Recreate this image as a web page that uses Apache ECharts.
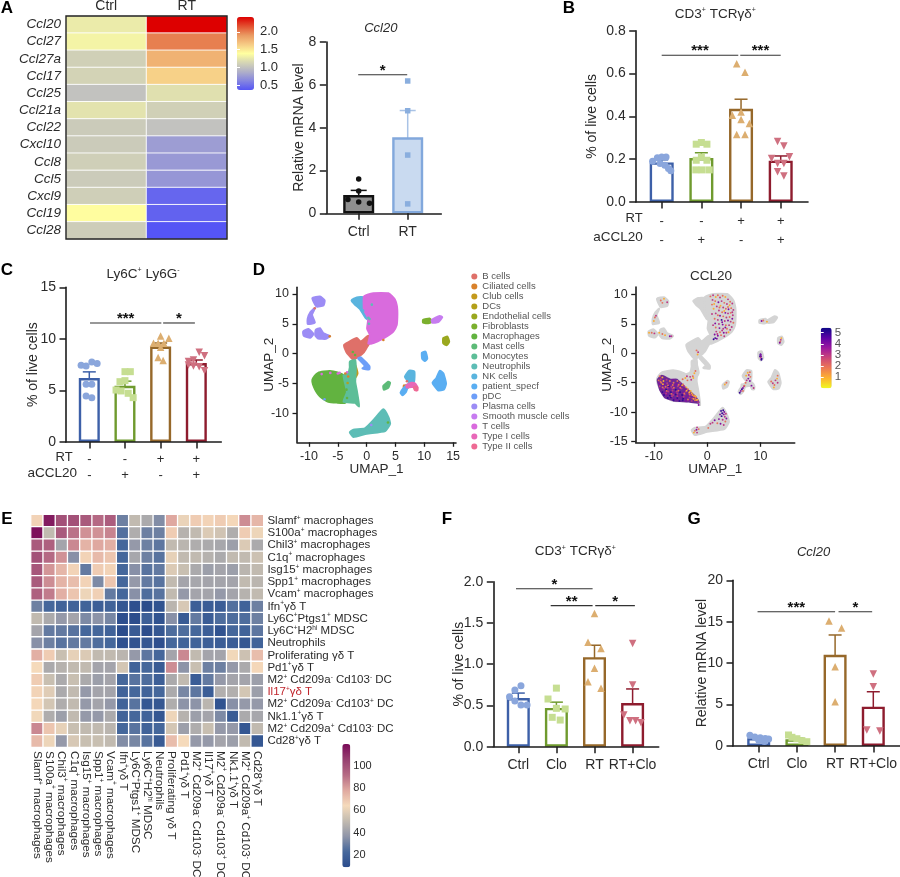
<!DOCTYPE html>
<html>
<head>
<meta charset="utf-8">
<style>html,body{margin:0;padding:0;background:#fff}#fig{width:900px;height:877px}</style>
<script src="https://cdn.jsdelivr.net/npm/echarts@6/dist/echarts.min.js"></script>
</head>
<body>
<div id="fig"></div>
<script>
// ---------- Panel A: chemokine heat map ----------
const chemokineGenes = ['Ccl20','Ccl27','Ccl27a','Ccl17','Ccl25','Ccl21a','Ccl22','Cxcl10','Ccl8','Ccl5','Cxcl9','Ccl19','Ccl28'];
const chemokineConditions = ['Ctrl','RT'];
const chemokineCtrl = [1.27,1.32,1.1,1.12,1.0,1.22,1.06,1.06,1.09,1.06,1.09,1.4,1.08];
const chemokineRT = [2.42,2.0,1.78,1.62,1.2,1.1,1.0,0.76,0.74,0.72,0.45,0.43,0.36];

// ---------- Bar panels: means, error limits and individual animals ----------
const ccl20Groups = ['Ctrl','RT'];
const ccl20Means = [0.85,3.55];
const ccl20Low = [0.65,2.3];
const ccl20High = [1.07,4.8];
const ccl20Ctrl = [[0,1.6],[-0.22,0.65],[0,1.04],[0,0.53],[0.22,0.47]];
const ccl20RT = [[0,6.18],[0,4.79],[0,2.72],[0,0.44]];

const rtSigns = ['-','-','+','+'];
const aCcl20Signs = ['-','+','-','+'];

const gdMeans = [0.185,0.205,0.435,0.193];
const gdLow = [0.172,0.183,0.39,0.17];
const gdHigh = [0.197,0.23,0.48,0.215];
const gdCtrl = [[-0.23,0.19],[-0.11,0.207],[0,0.21],[0.11,0.21],[-0.04,0.18],[0.08,0.172],[0.17,0.157],[0.23,0.146]];
const gdAb = [[-0.13,0.27],[0,0.278],[0.14,0.27],[0,0.21],[-0.13,0.195],[0.14,0.195],[-0.14,0.15],[0.02,0.15],[0.2,0.15]];
const gdRT = [[-0.11,0.646],[0.1,0.606],[-0.22,0.405],[0,0.42],[0,0.385],[0.21,0.367],[-0.11,0.315],[0.1,0.315]];
const gdRTAb = [[-0.08,0.283],[0.08,0.261],[-0.23,0.203],[0.22,0.211],[-0.08,0.18],[0.08,0.18],[-0.08,0.141],[0.08,0.121]];

const ly6Means = [6.2,5.45,9.25,7.65];
const ly6Low = [5.65,5.05,8.9,7.35];
const ly6High = [6.8,5.9,9.6,7.95];
const ly6Ctrl = [[-0.23,7.44],[-0.09,7.37],[0.07,7.76],[0.22,7.6],[-0.09,5.6],[0.07,5.6],[-0.09,4.45],[0.07,4.3]];
const ly6Ab = [[0,6.82],[0.15,6.82],[-0.14,5.85],[0,5.95],[-0.25,5.04],[-0.11,4.95],[0.09,4.72],[0.23,4.3]];
const ly6RT = [[0,10.28],[0.23,10.05],[-0.2,9.57],[-0.07,9.57],[0.09,9.57],[0,9.18],[-0.07,8.2],[0.07,7.9]];
const ly6RTAb = [[0.08,8.7],[0.23,8.37],[-0.22,7.8],[-0.08,7.95],[-0.22,7.47],[-0.08,7.37],[0.08,7.3],[0.23,6.92]];

const cloGroups = ['Ctrl','Clo','RT','RT+Clo'];
const cloMeans = [0.59,0.47,1.085,0.53];
const cloLow = [0.53,0.42,0.95,0.39];
const cloHigh = [0.65,0.54,1.23,0.7];
const cloCtrl = [[0.07,0.74],[-0.09,0.687],[-0.23,0.606],[-0.09,0.553],[0.07,0.505],[0.23,0.505]];
const cloAb = [[0,0.71],[-0.22,0.578],[0,0.465],[0.23,0.457],[-0.11,0.356],[0.1,0.323]];
const cloRT = [[0,1.616],[-0.17,1.265],[0.17,1.19],[0,0.95],[-0.17,0.788],[0.17,0.707]];
const cloRTAb = [[0,1.25],[0,0.747],[-0.23,0.384],[-0.07,0.315],[0.08,0.315],[0.22,0.29]];

const cloCcl20Means = [0.95,0.8,11.0,4.75];
const cloCcl20Low = [0.8,0.65,8.8,3.0];
const cloCcl20High = [1.1,0.95,13.4,6.55];
const cloCcl20Ctrl = [[-0.23,1.3],[-0.1,1.1],[0.04,1.0],[0.17,0.92],[0.26,0.85],[0,0.7],[0.15,0.55]];
const cloCcl20Ab = [[-0.22,1.33],[-0.13,1.05],[0,0.88],[0.13,0.65],[0.26,0.52]];
const cloCcl20RT = [[-0.16,15.1],[0.17,14.25],[0,9.58],[0,5.35]];
const cloCcl20RTAb = [[0,8.7],[0,7.16],[-0.17,1.93],[0.17,1.81]];

// Significance bars: first group position, last group position, height, stars
const ccl20Sig = [[-0.01,0.99,6.47,'*']];
const gdSig = [[0,1.93,0.685,'***'],[1.98,3,0.685,'***']];
const ly6Sig = [[0.02,2.02,11.54,'***'],[2.07,2.96,11.54,'*']];
const cloSig = [[-0.06,1.95,1.915,'*'],[0.85,1.95,1.71,'**'],[2.02,3.06,1.71,'*']];
const cloCcl20Sig = [[-0.03,2,16.2,'***'],[2.09,2.97,16.2,'*']];

// ---------- Panel D: UMAP clusters ----------
const clusterNames = ['B cells','Ciliated cells','Club cells','DCs','Endothelial cells','Fibroblasts','Macrophages','Mast cells','Monocytes','Neutrophils','NK cells','patient_specf','pDC','Plasma cells','Smooth muscle cells','T cells','Type I cells','Type II cells'];
const clusterColors = ['#df7069','#d9822b','#c49a1c','#b3a01a','#9aa81f','#7bb02e','#62b340','#5dbb78','#5dbe98','#5dbdb6','#5ab4de','#5aaef2','#6d9ef8','#9c8cf5','#c77cf0','#d96bdd','#e868b8','#ee6a94'];

const bCellShape = [[[-3.9,1.45],[-3.2,1.9],[-1.7,2.6],[-1.04,2.0],[0.3,3.0],[0.8,2.3],[0.1,1.2],[-0.46,0.3],[-1.45,-0.5],[-2.4,-0.9],[-3.0,-0.3],[-3.5,0.3]]];
const ciliatedShape = [[[6.47,-5.3],[7.2,-5.3],[7.2,-5.64],[6.47,-5.75]]];
const clubShape = [[[-2.8,-2.2],[-2.0,-1.9],[-1.6,-3.3],[-2.0,-4.0],[-2.8,-3.6]]];
const dcShape = [[[-3.0,-3.9],[-2.7,-3.9],[-2.6,-4.2],[-3.0,-4.2]]];
const endothelialShape = [[[13.3,2.6],[14.0,2.85],[14.3,2.0],[13.9,1.45],[13.3,1.73]]];
const fibroblastShape = [[[9.8,5.64],[10.9,5.87],[11.4,5.4],[10.7,5.1],[9.8,5.2]]];
const macrophageShape = [[[-9.4,-4.4],[-9.0,-3.7],[-8.4,-3.2],[-7.4,-3.0],[-6.4,-2.9],[-5.2,-3.1],[-4.05,-3.6],[-3.6,-5.1],[-3.2,-6.6],[-3.4,-7.5],[-3.76,-8.2],[-5.2,-8.15],[-6.65,-8.0],[-7.4,-7.6],[-8.1,-7.1],[-8.6,-6.5],[-9.0,-5.8],[-9.3,-5.1]]];
const mastShape = [[[2.9,-5.4],[3.76,-4.7],[4.05,-4.86],[3.76,-5.64],[3,-6]]];
const monocyteShape = [[[-2.9,-1.34],[-2.0,-1.06],[-1.9,-2.9],[-2.0,-4.7],[-1.7,-6.3],[-1.45,-7.8],[-1.33,-8.8],[-2.0,-8.2],[-4.0,-8.0],[-3.4,-6.4],[-4.0,-3.6],[-3.2,-3.3],[-2.9,-2.3]]];
const neutrophilShape = [[[-2.9,-13.1],[-2.3,-12.7],[-0.3,-12.5],[1.3,-11.0],[2.9,-9.3],[3.76,-10.6],[4.05,-11.7],[3.2,-12.9],[0,-13.35],[-2.3,-13.9]]];
const nkShape = [[[-2.6,8.9],[-1.7,9.4],[-0.46,9.4],[-0.46,7.8],[0.3,6.7],[0.46,5.6],[-0.1,5.9],[-1.16,7.5],[-2.0,8.2]],[[7.4,-2.85],[8.26,-3.0],[8.2,-4.7],[7.5,-4.86],[6.65,-3.85]]];
const patientShape = [[[12.7,-2.85],[13.3,-3.3],[13.76,-5],[13.4,-5.98],[12.4,-6.1],[11.45,-4.86],[12.1,-4.1]],[[9.6,0.17],[10.2,0.34],[10.5,-0.8],[10.1,-1.2],[9.65,-0.8]],[[7.2,-5.1],[6.8,-6.4],[6.24,-6.93],[5.9,-6.5],[6.36,-5.8]]];
const pdcShape = [[[-1.45,-0.8],[-1.04,-0.6],[0.46,-2.07],[0.46,-2.6],[-0.7,-2.46],[-0.23,-2.07]]];
const plasmaShape = [[[-9.4,9.3],[-8.1,9.55],[-7.3,8.9],[-7.5,8.1],[-8.7,7.9]],[[-9.0,7.6],[-9.5,6.5],[-9.0,5.2],[-10.2,5.0],[-10.2,5.9],[-9.7,7.0]],[[-11,3.7],[-10.1,4.1],[-9.25,3.3],[-9.8,2.7],[-10.9,3.0]],[[-8.8,4.0],[-8.1,4.25],[-7.5,3.4],[-6.4,2.96],[-7.05,2.5],[-8.4,2.57],[-8.9,3.1]]];
const smoothMuscleShape = [[[11.3,5.64],[12.7,6.3],[13.1,6.1],[12.4,5.3],[11.4,5.2]]];
const tCellShape = [[[-0.46,9.55],[0.3,9.9],[1.16,10.1],[2.5,10.15],[3.76,10.1],[4.4,9.6],[4.9,9.0],[5.2,8.1],[5.3,7.3],[5.3,6.0],[5.2,4.8],[4.6,3.7],[3.8,3.1],[2.9,2.6],[1.9,2.1],[0.87,1.7],[0.3,1.7],[0.6,3.1],[0.1,4.2],[0.3,5.9],[-0.1,6.7],[-0.46,7.3]]];
const typeOneShape = [[[7.8,-4.86],[8.4,-5],[8.84,-5.64],[8.67,-6.1],[8.1,-5.5],[6.94,-5.64],[6.94,-5.25]]];
const typeTwoShape = [[[8.2,-5.6],[8.7,-5.55],[8.8,-6.1],[8.4,-6.1]]];
const clusterShapes = [bCellShape,ciliatedShape,clubShape,dcShape,endothelialShape,fibroblastShape,macrophageShape,mastShape,monocyteShape,neutrophilShape,nkShape,patientShape,pdcShape,plasmaShape,smoothMuscleShape,tCellShape,typeOneShape,typeTwoShape];

// Isolated cells lying outside their main cluster: x, y, cluster number
const strayCells = [[-7.8,-3.4,15],[-6.3,-3.2,15],[-5.0,-3.3,15],[-4.7,-3.2,15],[-3.4,-3.1,15],[0.3,6.0,9],[0.5,5.8,9],[-0.1,9.2,15],[0.9,8.2,9],[-2.4,0.3,6],[-2,-0.2,6],[-3.3,-4.9,3],[-3.5,-6,6],[-3.4,-7.4,6],[-7.3,-7.6,12],[3.7,-11.5,6],[0.8,-11.9,13],[-9.0,7.6,0],[-6.4,2.9,1],[2.9,2.3,1],[-3.7,-3.3,1],[-3.2,-3.8,1],[7.0,-4.6,0],[-0.6,7.2,10],[0.4,5.0,9]];

// ---------- Panel D: CCL20 expression, x, y, level ----------
const ccl20DenseZone = [[[-9.25,-4.5],[-8.5,-3.85],[-6.9,-4.5],[-5.7,-4.5],[-4.1,-5.9],[-2.25,-7.4],[-1.6,-8.4],[-3.5,-8.2],[-6.3,-8.0],[-7.9,-7.5],[-8.8,-6.2]]];
const ccl20Macrophages = [
[-9.1,-4.6,2],[-8.7,-4.4,3],[-8.2,-4.7,1],[-7.6,-4.5,3],[-7.0,-4.7,2],[-6.4,-4.5,4],[-5.6,-4.7,2],[-8.9,-3.9,2],[-8.4,-4.1,1],
[-9.0,-5.1,4],[-8.6,-5.0,2],[-8.0,-5.2,4],[-7.5,-5.1,3],[-6.9,-5.2,4],[-6.3,-5.0,2],[-5.8,-5.2,4],[-5.1,-5.0,3],[-4.5,-5.3,2],
[-8.9,-5.6,3],[-8.3,-5.5,4],[-7.8,-5.7,2],[-7.2,-5.6,5],[-6.7,-5.7,3],[-6.1,-5.5,4],[-5.5,-5.6,3],[-5.0,-5.7,4],[-4.3,-5.6,3],[-3.9,-5.8,1],
[-8.6,-6.1,4],[-8.1,-6.0,3],[-7.7,-6.2,5],[-7.0,-6.1,4],[-6.5,-6.0,3],[-5.9,-6.2,5],[-5.3,-6.1,4],[-4.8,-6.0,3],[-4.1,-6.2,4],[-3.6,-6.1,2],[-3.1,-6.4,1],
[-8.4,-6.6,5],[-7.9,-6.7,4],[-7.3,-6.5,3],[-6.8,-6.6,5],[-6.2,-6.7,4],[-5.7,-6.5,3],[-5.1,-6.6,5],[-4.5,-6.7,4],[-4.0,-6.5,3],[-3.4,-6.7,2],[-2.9,-6.8,1],
[-8.1,-7.1,5],[-7.5,-7.0,4],[-7.0,-7.2,5],[-6.4,-7.1,3],[-5.9,-7.0,5],[-5.3,-7.2,4],[-4.7,-7.1,5],[-4.2,-7.0,3],[-3.6,-7.2,4],[-3.0,-7.1,3],[-2.5,-7.3,2],[-2.1,-7.4,1],
[-7.4,-7.6,5],[-6.8,-7.5,5],[-6.2,-7.7,4],[-5.6,-7.6,5],[-5.0,-7.5,4],[-4.5,-7.7,5],[-3.9,-7.6,4],[-3.3,-7.5,3],[-2.8,-7.7,3],[-2.2,-7.6,2],[-1.8,-7.9,1],
[-6.3,-8.0,5],[-5.7,-7.9,4],[-5.2,-8.1,5],[-4.6,-8.0,5],[-4.0,-8.1,4],[-3.4,-8.0,4],[-2.9,-8.1,3],[-2.3,-8.0,2],[-1.7,-8.3,3],[-1.6,-8.8,4],
[-8.75,-4.85,2],[-8.3,-5.25,1],[-7.35,-5.45,2],[-6.45,-5.4,2],[-5.35,-5.35,2],[-4.7,-5.45,1],[-8.35,-5.8,2],[-7.4,-5.85,3],[-6.25,-5.85,2],[-5.05,-5.85,2],[-3.85,-6.35,1],[-3.3,-6.6,1],[-7.6,-6.4,2],[-6.5,-6.35,3],[-5.4,-6.35,2],[-4.3,-6.85,2],[-2.7,-7.1,1],[-2.3,-7.25,1],[-7.7,-6.85,3],[-6.7,-6.9,2],[-5.6,-6.85,3],[-3.3,-7.0,2],[-2.55,-7.75,1],[-2.05,-7.95,1],[-6.6,-7.3,3],[-5.6,-7.3,3],[-4.4,-7.4,3],[-3.6,-7.85,2]
];
const ccl20TCells = [
[0.6,9.7,2],[1.1,9.9,3],[1.6,9.6,1],[2.0,9.9,2],[2.4,9.5,3],[2.9,9.8,2],[3.4,9.6,1],[3.9,9.2,3],[4.3,8.8,2],[1.0,9.1,3],[1.5,8.9,2],[2.1,8.7,4],[2.7,8.9,3],[3.2,8.6,2],[3.7,8.4,3],[4.2,8.2,1],[4.7,8.5,3],[0.9,8.3,2],[1.8,8.0,3],[2.5,8.1,1],[3.0,7.8,3],[3.5,7.6,2],[4.0,7.5,4],[4.5,7.7,2],[4.9,7.4,3],[1.2,7.6,1],[2.2,7.3,3],[2.8,7.0,2],[3.4,6.9,4],[3.9,6.8,3],[4.4,6.9,2],[4.8,6.5,3],[1.6,6.8,3],[2.4,6.4,4],[3.0,6.3,2],[3.6,6.1,3],[4.2,6.2,2],[4.7,5.9,4],[1.4,5.9,2],[2.0,5.7,3],[2.7,5.7,5],[3.3,5.5,3],[3.9,5.6,4],[4.4,5.4,3],[4.9,5.2,2],[1.5,5.1,4],[2.2,5.0,3],[2.9,4.9,4],[3.5,4.8,2],[4.1,4.8,3],[4.6,4.5,3],[1.6,4.4,2],[2.3,4.3,4],[3.0,4.2,3],[3.7,4.2,2],[4.3,4.0,3],[1.7,3.7,3],[2.4,3.6,2],[3.1,3.5,4],[3.6,3.5,3],[1.4,3.2,4],[2.0,3.0,4],[2.6,3.1,2],[3.2,2.9,3],[1.5,2.6,5],[1.8,2.5,4],[1.2,2.4,5],[2.0,6.5,2],[0.9,6.7,3],[3.2,7.2,1],[1.3,8.4,1],[3.9,7.9,2],[2.8,5.3,4],[3.4,4.4,4],[1.9,3.3,3],[2.8,3.9,3],[4.0,3.6,1],[1.1,4.8,3],[4.7,7.0,3],[2.3,7.8,2]
];
const ccl20Others = [
[-8.7,9.0,2],[-8.1,9.3,1],[-7.5,8.7,3],[-8.4,8.6,2],[-9.6,6.4,3],[-9.8,6.1,2],[-10.0,5.5,1],[-10.9,3.5,1],[-10.4,3.5,2],[-9.9,3.4,3],[-9.0,3.5,1],[-8.4,3.3,2],[-7.9,3.1,1],[-6.7,2.9,3],[-7.0,2.9,4],
[-2.0,0.5,2],[-1.7,0.2,3],[-1.8,-0.2,1],
[-4.1,-4.2,1],[-3.7,-4.6,2],[-3.2,-4.0,3],[-2.7,-3.9,2],[-2.4,-3.4,1],[-2.2,-3.0,2],[-3.0,-4.5,3],[-2.6,-4.2,1],[-3.8,-3.9,3],[-4.6,-4.4,2],
[2.6,-9.8,5],[3.0,-9.7,5],[3.2,-10.0,4],[2.8,-10.2,5],[2.4,-10.4,4],[3.1,-10.4,4],[3.5,-10.3,3],[2.7,-10.7,5],[3.3,-10.8,3],[3.6,-11.1,4],[2.2,-11.2,4],[2.9,-11.3,3],[3.4,-11.6,2],[1.4,-11.4,4],[1.0,-11.8,3],[1.9,-11.9,2],[0.6,-12.0,3],[2.5,-12.0,4],[3.1,-12.2,3],[0.2,-12.7,2],[-1.9,-12.6,3],[-2.0,-13.0,4],[-1.6,-12.9,2],[-2.3,-13.2,2],[-2.5,-13.5,1],[-1.9,-13.5,3],
[10.0,-0.2,5],[10.1,-0.5,4],[9.9,-0.5,5],[10.2,-0.9,5],[10.0,-0.2,4],[10.15,-1.1,5],[10.0,-0.7,3],
[7.6,-3.3,1],[8.0,-3.2,2],[7.8,-3.7,3],[7.3,-3.8,1],[8.1,-4.0,2],[7.7,-4.3,4],[8.0,-4.7,4],[7.4,-4.6,3],[7.2,-5.0,2],[7.0,-5.5,1],[8.3,-5.5,4],[8.7,-5.9,3],[6.9,-5.6,3],[6.7,-5.9,4],[6.5,-6.1,5],[6.3,-6.4,4],[6.7,-6.4,2],[6.1,-6.7,5],
[13.2,-3.8,2],[12.8,-4.6,3],[13.1,-4.3,1],[12.0,-4.8,2],[12.3,-5.1,3],[12.6,-5.4,2],[12.5,-5.8,1],[13.2,-5.0,3],
[10.2,5.5,4],[10.5,5.6,2],[11.2,5.4,1],[13.8,2.3,3],[13.7,2.0,2],[13.9,2.6,1],[13.6,1.8,4],[3.3,-5.3,1],[3.6,-5,2]
];

// ---------- Panel E: interaction heat map ----------
const cellTypes = ['Slamf{s|+} macrophages','S100a{s|+} macrophages','Chil3{s|+} macrophages','C1q{s|+} macrophages','Isg15{s|+} macrophages','Spp1{s|+} macrophages','Vcam{s|+} macrophages','Ifn{s|+}γδ T','Ly6C{s|+}Ptgs1{s|+} MDSC','Ly6C{s|+}H2{s|hi} MDSC','Neutrophils','Proliferating γδ T','Pd1{s|+}γδ T','M2{s|+} Cd209a{s|-} Cd103{s|-} DC','Il17{s|+}γδ T','M2{s|+} Cd209a{s|-} Cd103{s|+} DC','Nk1.1{s|+}γδ T','M2{s|+} Cd209a{s|+} Cd103{s|-} DC','Cd28{s|+}γδ T'];
const interactionScores = [
[66,115,100,100,97,92,96,30,50,44,34,78,61,68,66,68,65,84,74],
[118,50,97,90,83,83,86,25,45,30,30,68,47,50,57,54,45,68,62],
[97,95,42,85,75,78,76,22,38,30,27,50,48,45,44,43,40,57,44],
[100,92,83,35,66,73,70,22,43,30,26,60,50,50,47,44,50,50,53],
[98,82,74,66,28,68,66,22,35,26,28,57,52,44,40,42,40,48,50],
[97,84,75,72,66,33,70,22,38,28,26,50,42,43,42,42,42,50,48],
[95,88,76,70,62,67,28,22,35,24,26,50,38,42,42,38,42,47,50],
[30,22,20,20,20,18,20,14,10,9,12,48,56,18,17,17,25,20,30],
[50,44,38,42,33,36,32,10,9,18,12,35,16,28,17,24,24,24,30],
[42,28,28,26,22,22,20,9,16,9,14,24,24,22,18,12,22,20,27],
[35,30,26,28,28,24,22,11,12,14,10,22,20,20,18,17,17,14,20],
[76,68,52,60,57,50,50,48,38,27,22,42,85,50,42,42,63,53,72],
[64,44,47,50,50,42,42,55,20,22,16,84,36,52,30,30,38,44,65],
[68,52,44,52,44,40,42,22,26,24,18,44,50,17,28,38,42,42,40],
[66,58,44,50,38,42,42,20,22,20,22,44,32,27,17,46,46,55,40],
[65,55,45,50,38,42,38,20,26,14,14,45,36,36,48,12,35,38,38],
[63,45,40,50,38,38,44,20,22,20,14,62,47,40,42,33,16,44,43],
[85,70,60,52,50,50,48,22,26,20,22,55,40,45,52,38,38,14,50],
[73,62,38,56,52,52,50,34,32,26,16,72,64,38,38,42,40,50,14]
];

// ---------- Shared styling ----------
const FONT = '"Liberation Sans", Arial, sans-serif';
const INK = '#2b2b2b';
const groupEdges = ['#3d60a8','#6f9a2e','#96682a','#8e1c2e'];
const groupDots = ['#8aa6dc','#c6de92','#dcae70','#cf7080'];
const markers = [
  {symbol:'circle', size:7, rotate:0},
  {symbol:'rect', size:7, rotate:0},
  {symbol:'triangle', size:7.5, rotate:0},
  {symbol:'triangle', size:7.5, rotate:180}
];
const superscript = {s:{fontSize:7, verticalAlign:'top', lineHeight:14, fontFamily:FONT, fill:INK, color:INK}};

// Axis arrays share their indexes with the grids; second y axes of colour bars go at the end
const grids = [], xAxes = [], yAxes = [], extraYAxes = [], series = [], visualMaps = [], graphics = [];

function addSeries(s){ series.push(s); return series.length - 1; }

// Grids keep their given rectangle even when long labels run past the canvas edge
function addGrid(left, top, width, height){
  grids.push({left:left, top:top, width:width, height:height, containLabel:false, outerBoundsMode:'none'});
  return grids.length - 1;
}

function addLabel(text, x, y, o){
  graphics.push({type:'text', x:x, y:y, z:20, silent:true, rotation:(o&&o.rotation)||0, style:Object.assign({
    text:text, fontFamily:FONT, fontSize:14, fill:INK, align:'center', verticalAlign:'middle', rich:superscript
  }, o||{})});
}

// Axis pair for a bar panel; ticks sit at whole group numbers
function addBarPanel(c){
  const left = c.left;
  const g = addGrid(left, c.top, c.right-left, c.bottom-c.top);
  const ticks = c.labels.map((_,i)=>i);
  xAxes.push({gridIndex:g, type:'value', z:5,
    min:(left-c.tick0)/c.step, max:(c.right-c.tick0)/c.step,
    splitLine:{show:false},
    axisLine:{onZero:false, lineStyle:{color:'#1c1c1c', width:1.6}},
    axisTick:{length:6.5, customValues:ticks, lineStyle:{color:'#1c1c1c', width:1.5}},
    axisLabel:{customValues:ticks, margin:c.xMargin||11, fontFamily:FONT, fontSize:c.xFont||14, color:INK, lineHeight:c.xLine||16,
      showMinLabel:true, showMaxLabel:true,
      formatter:function(v){return c.labels[v];}}
  });
  yAxes.push({gridIndex:g, type:'value', z:5, min:0, max:c.max, interval:c.interval,
    name:c.yName, nameLocation:'middle', nameGap:c.nameGap, nameMoveOverlap:false,
    nameTextStyle:{fontFamily:FONT, fontSize:14, color:INK},
    splitLine:{show:false},
    axisLine:{show:true, onZero:false, lineStyle:{color:'#1c1c1c', width:1.6}},
    axisTick:{show:true, length:6.5, lineStyle:{color:'#1c1c1c', width:1.5}},
    axisLabel:{margin:10, fontFamily:FONT, fontSize:14, color:INK,
      formatter:function(v){return c.decimals ? v.toFixed(c.decimals) : String(v);}}
  });
  addSeries({type:'bar', xAxisIndex:g, yAxisIndex:g, barWidth:c.barWidth, silent:true,
    data:c.means.map(function(m,i){return {value:[i,m], itemStyle:{
      color:(c.fills||[])[i]||'#fff', borderColor:c.edges[i], borderWidth:2.4}};})});
  c.points.forEach(function(pts,i){
    const mk = c.markers[i];
    addSeries({type:'scatter', xAxisIndex:g, yAxisIndex:g, silent:true, symbol:mk.symbol, symbolSize:mk.size, symbolRotate:mk.rotate,
      itemStyle:{color:c.dots[i], opacity:1},
      data:pts.map(function(p){return [i+p[0],p[1]];})});
  });
  addSeries({type:'custom', xAxisIndex:g, yAxisIndex:g, silent:true,
    data:c.low.map(function(l,i){return [i,l,c.high[i]];}),
    encode:{x:0,y:[1,2]},
    renderItem:function(params,api){
      const i = api.value(0), cap = c.cap||6.5;
      const a = api.coord([i,api.value(1)]), b = api.coord([i,api.value(2)]);
      const style = {stroke:c.errColors[i], lineWidth:1.5};
      return {type:'group', children:[
        {type:'line', shape:{x1:a[0],y1:a[1],x2:b[0],y2:b[1]}, style:style},
        {type:'line', shape:{x1:a[0]-cap,y1:a[1],x2:a[0]+cap,y2:a[1]}, style:style},
        {type:'line', shape:{x1:b[0]-cap,y1:b[1],x2:b[0]+cap,y2:b[1]}, style:style}
      ]};
    }});
  addSeries({type:'custom', xAxisIndex:g, yAxisIndex:g, silent:true,
    data:c.sig.map(function(s){return [s[0],s[2],s[1]];}),
    encode:{x:[0,2],y:1},
    renderItem:function(params,api){
      const s = c.sig[params.dataIndex];
      const a = api.coord([s[0],s[2]]), b = api.coord([s[1],s[2]]);
      return {type:'group', children:[
        {type:'line', shape:{x1:a[0],y1:a[1],x2:b[0],y2:b[1]}, style:{stroke:'#333', lineWidth:1.1}},
        {type:'text', x:(a[0]+b[0])/2, y:a[1]-4, style:{text:s[3], fontFamily:FONT, fontSize:15, fontWeight:'bold', fill:'#111', align:'center', verticalAlign:'middle'}}
      ]};
    }});
}

// Colour bar: the bar itself comes from the visualMap, its scale from a bare axis on top.
// A tightly packed scale writes its numbers through a marker-less scatter instead of axis labels.
function addColorScale(vm, c){
  const g = addGrid(c.left, c.top, c.width, c.height);
  xAxes.push({gridIndex:g, type:'value', show:false, min:0, max:1});
  const base = {gridIndex:g, type:'value', z:10, min:vm.min, max:vm.max, splitLine:{show:false}};
  yAxes.push(Object.assign({}, base, {position:'right',
    axisLine:{show:false},
    axisTick:{show:c.ticks, inside:true, customValues:c.values, length:3, lineStyle:{color:'#fff', width:1}},
    axisLabel:{show:!c.labelSeries, customValues:c.values, margin:c.margin, fontFamily:FONT, fontSize:c.font, color:INK, formatter:c.format,
      showMinLabel:true, showMaxLabel:true}
  }));
  if (c.ticks) {
    extraYAxes.push(Object.assign({}, base, {position:'left',
      axisLine:{show:false},
      axisLabel:{show:false},
      axisTick:{show:true, inside:true, customValues:c.values, length:3, lineStyle:{color:'#fff', width:1}}
    }));
  }
  if (c.labelSeries) {
    addSeries({type:'scatter', xAxisIndex:g, yAxisIndex:g, silent:true, symbolSize:0,
      data:c.values.map(function(v){return [1,v];}),
      label:{show:true, position:'right', distance:c.margin, fontFamily:FONT, fontSize:c.font, color:INK,
        formatter:function(p){return c.format(p.value[1]);}}});
  }
  visualMaps.push(Object.assign({type:'continuous', show:true, calculable:false, hoverLink:false, realtime:false,
    orient:'vertical', left:c.left, top:c.top, itemWidth:c.width, itemHeight:c.height, padding:0, text:null, showLabel:false,
    z:2}, vm));
}

// ---------- Panel A ----------
(function(){
  const g = addGrid(66, 16, 161, 223);
  xAxes.push({gridIndex:g, type:'category', position:'top', data:chemokineConditions,
    axisLine:{show:false}, axisTick:{show:false}, splitLine:{show:false},
    axisLabel:{fontFamily:FONT, fontSize:14, color:INK, margin:3}});
  yAxes.push({gridIndex:g, type:'category', inverse:true, data:chemokineGenes,
    axisLine:{show:false}, axisTick:{show:false}, splitLine:{show:false},
    axisLabel:{fontFamily:FONT, fontSize:13.5, fontStyle:'italic', color:INK, margin:5, interval:0}});
  const cells = [];
  chemokineGenes.forEach(function(_,r){ cells.push([0,r,chemokineCtrl[r]]); cells.push([1,r,chemokineRT[r]]); });
  const s = addSeries({type:'heatmap', xAxisIndex:g, yAxisIndex:g, silent:true, data:cells,
    itemStyle:{borderColor:'#fff', borderWidth:0.9}});
  graphics.push({type:'rect', z:15, silent:true, shape:{x:66,y:16,width:161,height:223}, style:{fill:null, stroke:'#222', lineWidth:1.4}});
  addColorScale({min:0.36, max:2.42, dimension:2, seriesIndex:s,
    inRange:{color:['#5555f5','#8585e0','#b0b0c8','#d5d5b5','#ffffa0','#f6cb85','#ea9a62','#e35030','#dd0000']}},
    {left:237, top:17, width:17, height:73, ticks:true, values:[0.5,1,1.5,2], margin:6, font:13,
     format:function(v){return v.toFixed(1);}});
})();

addBarPanel({left:326.3, right:441.3, top:42, bottom:213.3, tick0:358.7, step:49, barWidth:31,
  labels:ccl20Groups, max:8, interval:2, yName:'Relative mRNA level', nameGap:20,
  means:ccl20Means, low:ccl20Low, high:ccl20High, sig:ccl20Sig, points:[ccl20Ctrl,ccl20RT],
  fills:['#8f8f8f','#c9daf0'], edges:['#111','#82a8dc'], dots:['#111','#8aaede'], errColors:['#111','#a9c3e6'],
  markers:[{symbol:'circle',size:5.5,rotate:0},{symbol:'rect',size:5.5,rotate:0}], cap:8});

addBarPanel({left:635.7, right:808, top:30.7, bottom:202, tick0:661.7, step:39.67, barWidth:24,
  labels:rtSigns.map(function(r,i){return r+'\n'+aCcl20Signs[i];}), xLine:19, xMargin:10, xFont:13,
  max:0.8, interval:0.2, decimals:1, yName:'% of live cells', nameGap:37,
  means:gdMeans, low:gdLow, high:gdHigh, sig:gdSig, points:[gdCtrl,gdAb,gdRT,gdRTAb],
  edges:groupEdges, dots:groupDots, errColors:groupEdges, markers:markers});

addBarPanel({left:66, right:221.3, top:287.3, bottom:442, tick0:89.3, step:35.67, barWidth:21,
  labels:rtSigns.map(function(r,i){return r+'\n'+aCcl20Signs[i];}), xLine:16, xMargin:9, xFont:13,
  max:15, interval:5, yName:'% of live cells', nameGap:26,
  means:ly6Means, low:ly6Low, high:ly6High, sig:ly6Sig, points:[ly6Ctrl,ly6Ab,ly6RT,ly6RTAb],
  edges:groupEdges, dots:groupDots, errColors:groupEdges, markers:markers});

addBarPanel({left:493.3, right:658.7, top:581.7, bottom:746.7, tick0:518.3, step:38.1, barWidth:23,
  labels:cloGroups, max:2, interval:0.5, decimals:1, yName:'% of live cells', nameGap:27, xMargin:10,
  means:cloMeans, low:cloLow, high:cloHigh, sig:cloSig, points:[cloCtrl,cloAb,cloRT,cloRTAb],
  edges:groupEdges, dots:groupDots, errColors:groupEdges, markers:markers});

addBarPanel({left:733, right:900, top:580.3, bottom:746, tick0:758.7, step:38.2, barWidth:23,
  labels:cloGroups, max:20, interval:5, yName:'Relative mRNA level', nameGap:24, xMargin:10,
  means:cloCcl20Means, low:cloCcl20Low, high:cloCcl20High, sig:cloCcl20Sig, points:[cloCcl20Ctrl,cloCcl20Ab,cloCcl20RT,cloCcl20RTAb],
  edges:groupEdges, dots:groupDots, errColors:groupEdges, markers:markers});

// ---------- Panel D ----------
function blobSeries(g, name, shapes, color){
  return {type:'custom', name:name, xAxisIndex:g, yAxisIndex:g, silent:true, itemStyle:{color:color},
    data:shapes.map(function(_,i){return [i,0];}),
    renderItem:function(params,api){
      const pts = shapes[params.dataIndex].map(function(p){return api.coord(p);});
      return {type:'polygon', shape:{points:pts, smooth:0.15}, style:{fill:color, stroke:color, lineWidth:2.2, lineJoin:'round'}};
    }};
}
function umapAxes(c){
  const g = addGrid(c.left, c.top, c.width, c.height);
  const line = {show:true, onZero:false, lineStyle:{color:'#1c1c1c', width:1.6}};
  const tick = function(vals){return {show:true, length:4.5, customValues:vals, lineStyle:{color:'#1c1c1c', width:1.3}};};
  const lbl = function(vals){return {customValues:vals, margin:c.margin||8, fontFamily:FONT, fontSize:12.5, color:INK, showMinLabel:true, showMaxLabel:true};};
  xAxes.push({gridIndex:g, type:'value', min:c.xMin, max:c.xMax, splitLine:{show:false}, axisLine:line, axisTick:tick(c.xVals), axisLabel:lbl(c.xVals),
    name:'UMAP_1', nameLocation:'middle', nameGap:20, nameMoveOverlap:false, nameTextStyle:{fontFamily:FONT, fontSize:13.5, color:INK}});
  yAxes.push({gridIndex:g, type:'value', min:c.yMin, max:c.yMax, splitLine:{show:false}, axisLine:line, axisTick:tick(c.yVals), axisLabel:lbl(c.yVals),
    name:'UMAP_2', nameLocation:'middle', nameGap:c.yGap, nameMoveOverlap:false, nameTextStyle:{fontFamily:FONT, fontSize:13.5, color:INK}});
  return g;
}
const umapLeft = umapAxes({left:297, top:287.3, width:159, height:155, xMin:-12.08, xMax:15.5, yMin:-14.8, yMax:11.1,
  xVals:[-10,-5,0,5,10,15], yVals:[-10,-5,0,5,10], yGap:21});
clusterNames.forEach(function(n,i){ addSeries(blobSeries(umapLeft, n, clusterShapes[i], clusterColors[i])); });
addSeries({type:'scatter', xAxisIndex:umapLeft, yAxisIndex:umapLeft, silent:true, symbolSize:2.6,
  itemStyle:{opacity:1, color:function(p){return clusterColors[p.value[2]];}}, data:strayCells});

const umapRight = umapAxes({left:635.7, top:287, width:159, height:155.3, xMin:-13.4, xMax:16.4, yMin:-15.15, yMax:11.3,
  xVals:[-10,0,10], yVals:[-15,-10,-5,0,5,10], yGap:21});
clusterShapes.forEach(function(shapes){ addSeries(blobSeries(umapRight, undefined, shapes, '#d4d4d4')); });
addSeries(blobSeries(umapRight, undefined, ccl20DenseZone, '#6d2b94'));
const ccl20Dots = ccl20Macrophages.concat(ccl20TCells, ccl20Others);
const dotsIndex = addSeries({type:'scatter', xAxisIndex:umapRight, yAxisIndex:umapRight, silent:true, symbolSize:1.9,
  itemStyle:{opacity:1}, data:ccl20Dots});
addColorScale({min:0, max:5.45, dimension:2, seriesIndex:dotsIndex,
  inRange:{color:['#f0f921','#fdb32f','#ed7953','#cc4778','#9c179e','#5c01a6','#0d0887']}},
  {left:820.7, top:327.7, width:11, height:60.6, ticks:true, values:[1,2,3,4,5], margin:3, font:11.5, labelSeries:true,
   format:function(v){return String(v);}});

// ---------- Panel E ----------
(function(){
  const g = addGrid(31, 514.7, 232.4, 232.4);
  const rich = {
    s:{fontSize:6.5, verticalAlign:'top', lineHeight:13, fontFamily:FONT, color:INK},
    r:{fontSize:11.5, lineHeight:13, fontFamily:FONT, color:'#c0262d'},
    rs:{fontSize:6.5, verticalAlign:'top', lineHeight:13, fontFamily:FONT, color:'#c0262d'}
  };
  xAxes.push({gridIndex:g, type:'category', data:cellTypes,
    axisLine:{show:false}, axisTick:{show:false}, splitLine:{show:false},
    axisLabel:{rotate:-90, interval:0, margin:4, fontFamily:FONT, fontSize:11.7, lineHeight:13, color:INK, rich:rich}});
  yAxes.push({gridIndex:g, type:'category', inverse:true, position:'right', data:cellTypes,
    axisLine:{show:false}, axisTick:{show:false}, splitLine:{show:false},
    axisLabel:{interval:0, margin:4, fontFamily:FONT, fontSize:11.5, lineHeight:13, color:INK, rich:rich,
      formatter:function(v){ return v.indexOf('Il17')===0 ? '{r|Il17}{rs|+}{r|γδ T}' : v; }}});
  const cells = [];
  interactionScores.forEach(function(row,r){ row.forEach(function(v,c){ cells.push([c,r,v]); }); });
  const s = addSeries({type:'heatmap', xAxisIndex:g, yAxisIndex:g, silent:true, data:cells,
    itemStyle:{borderColor:'#fff', borderWidth:1.3}});
  addColorScale({min:8.7, max:119.5, dimension:2, seriesIndex:s,
    inRange:{color:['#2b4c8c','#46689c','#8f95a8','#c2bbb0','#f5dabb','#dfa8a0','#b56a84','#964070','#7a0a58']}},
    {left:342.3, top:744, width:8, height:123.3, ticks:false, values:[20,40,60,80,100], margin:3, font:11,
     format:function(v){return String(v);}});
})();

// ---------- Titles, row captions and panel letters ----------
addLabel('Ccl20', 380.8, 28, {fontStyle:'italic', fontSize:13});
addLabel('CD3{s|+} TCRγδ{s|+}', 715.3, 14, {fontSize:13.5});
addLabel('Ly6C{s|+} Ly6G{s|-}', 143, 274, {fontSize:13.5});
addLabel('CCL20', 711, 276, {fontSize:13.5});
addLabel('CD3{s|+} TCRγδ{s|+}', 575.3, 551.7, {fontSize:13.5});
addLabel('Ccl20', 813.5, 552.3, {fontStyle:'italic', fontSize:13});
addLabel('RT', 642.7, 218.7, {align:'right', fontSize:13});
addLabel('aCCL20', 642.7, 237.7, {align:'right', fontSize:13.5});
addLabel('RT', 72.7, 457, {align:'right', fontSize:13});
addLabel('aCCL20', 77, 473, {align:'right', fontSize:13.5});
[['A',7,8],['B',569,8],['C',7,270],['D',259,270],['E',7,519],['F',447,519],['G',694,519]].forEach(function(l){
  addLabel(l[0], l[1], l[2], {fontWeight:'bold', fontSize:17, fill:'#000'});
});

const chart = echarts.init(document.getElementById('fig'), null, {renderer:'canvas', width:900, height:877});
chart.setOption({
  animation:false,
  backgroundColor:'#fff',
  textStyle:{fontFamily:FONT},
  grid:grids, xAxis:xAxes, yAxis:yAxes.concat(extraYAxes), series:series, visualMap:visualMaps,
  graphic:{elements:graphics},
  legend:{show:true, orient:'vertical', left:471.3, top:271.4, padding:0, itemGap:0, itemWidth:6, itemHeight:6,
    icon:'circle', selectedMode:false, data:clusterNames,
    textStyle:{fontFamily:FONT, fontSize:9.5, color:'#555', lineHeight:9.74, height:9.74, padding:0}},
  tooltip:{show:false}
});
</script>
</body>
</html>
